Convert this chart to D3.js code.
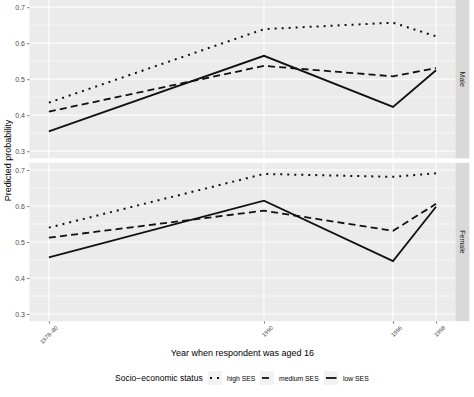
<!DOCTYPE html>
<html>
<head>
<meta charset="utf-8">
<script src="https://cdn.jsdelivr.net/npm/d3@7"></script>
<style>
  body { margin: 0; background: #fff; }
  svg { display: block; font-family: "Liberation Sans", Arial, sans-serif; }
</style>
</head>
<body>
<svg width="474" height="397"></svg>
<script>
// Years (1980 stands for the 1978-80 cohort)
var years = [1980, 1990, 1996, 1998];
var yearLabels = ["1978\u201380", "1990", "1996", "1998"];
var panels = ["Male", "Female"];
var groups = ["high SES", "medium SES", "low SES"];

// predicted probabilities
var maleHigh = [0.435, 0.639, 0.657, 0.619];
var maleMedium = [0.410, 0.537, 0.508, 0.531];
var maleLow = [0.355, 0.565, 0.423, 0.525];
var femaleHigh = [0.540, 0.689, 0.681, 0.691];
var femaleMedium = [0.512, 0.587, 0.531, 0.606];
var femaleLow = [0.457, 0.615, 0.447, 0.598];

var yTicks = [0.3, 0.4, 0.5, 0.6, 0.7];
var yMinor = [0.35, 0.45, 0.55, 0.65];

var series = {
  Male: [maleHigh, maleMedium, maleLow],
  Female: [femaleHigh, femaleMedium, femaleLow]
};

var dash = {
  "high SES": "2,5",
  "medium SES": "7,4.2",
  "low SES": null
};

var svg = d3.select("svg");
var left = 29.5, right = 455.4, stripW = 14;
var panelTop = [0, 162.8], panelH = 158.4;

var x = d3.scaleLinear().domain([1979.1, 1998.9]).range([left, right]);

panels.forEach(function(p, pi) {
  var top = panelTop[pi];
  var y = d3.scaleLinear().domain([0.28, 0.72]).range([top + panelH, top]);
  var g = svg.append("g");

  g.append("rect")
    .attr("x", left).attr("y", top)
    .attr("width", right - left).attr("height", panelH)
    .attr("fill", "#ebebeb");

  g.selectAll(".minor").data(yMinor).enter().append("line")
    .attr("x1", left).attr("x2", right)
    .attr("y1", function(d) { return y(d); })
    .attr("y2", function(d) { return y(d); })
    .attr("stroke", "#fff").attr("stroke-width", 0.5);

  g.selectAll(".major").data(yTicks).enter().append("line")
    .attr("x1", left).attr("x2", right)
    .attr("y1", function(d) { return y(d); })
    .attr("y2", function(d) { return y(d); })
    .attr("stroke", "#fff").attr("stroke-width", 1);

  g.selectAll(".vmajor").data(years).enter().append("line")
    .attr("x1", function(d) { return x(d); })
    .attr("x2", function(d) { return x(d); })
    .attr("y1", top).attr("y2", top + panelH)
    .attr("stroke", "#fff").attr("stroke-width", 1);

  // y axis
  var yAxis = d3.axisLeft(y).tickValues(yTicks).tickSize(2.5).tickPadding(2)
    .tickFormat(d3.format(".1f"));
  var ax = g.append("g").attr("transform", "translate(" + left + ",0)").call(yAxis);
  ax.select(".domain").remove();
  ax.selectAll(".tick line").attr("stroke", "#333").attr("stroke-width", 0.6);
  ax.selectAll("text").attr("fill", "#4d4d4d").style("font-size", "7px");

  // strip
  g.append("rect")
    .attr("x", right).attr("y", top)
    .attr("width", stripW).attr("height", panelH)
    .attr("fill", "#d9d9d9");
  g.append("text")
    .attr("transform", "translate(" + (right + stripW / 2 - 2.5) + "," + (top + panelH / 2) + ") rotate(90)")
    .attr("text-anchor", "middle")
    .attr("fill", "#1a1a1a")
    .style("font-size", "7px")
    .text(p);

  // lines
  var line = d3.line()
    .x(function(d, i) { return x(years[i]); })
    .y(function(d) { return y(d); });

  series[p].forEach(function(vals, si) {
    g.append("path")
      .datum(vals)
      .attr("d", line)
      .attr("fill", "none")
      .attr("stroke", "#111")
      .attr("stroke-width", si == 0 ? 2 : 1.8)
      .attr("stroke-dasharray", dash[groups[si]]);
  });
});

// x axis
var bottom = panelTop[1] + panelH;
var xAxis = d3.axisBottom(x).tickValues(years).tickSize(2.5).tickPadding(2)
  .tickFormat(function(d, i) { return yearLabels[i]; });
var xa = svg.append("g").attr("transform", "translate(0," + bottom + ")").call(xAxis);
xa.select(".domain").remove();
xa.selectAll(".tick line").attr("stroke", "#333").attr("stroke-width", 0.6);
xa.selectAll("text")
  .attr("fill", "#4d4d4d")
  .style("font-size", "5.8px")
  .attr("text-anchor", "end")
  .attr("dy", null)
  .attr("y", 0)
  .attr("transform", "translate(9,7) rotate(-45)");

// axis titles
svg.append("text")
  .attr("x", (left + right) / 2).attr("y", 356)
  .attr("text-anchor", "middle")
  .style("font-size", "9px")
  .attr("fill", "#000")
  .text("Year when respondent was aged 16");

svg.append("text")
  .attr("transform", "translate(11," + (bottom / 2) + ") rotate(-90)")
  .attr("text-anchor", "middle")
  .style("font-size", "9px")
  .attr("fill", "#000")
  .text("Predicted probability");

// legend
var legend = svg.append("g").attr("transform", "translate(0,378)");
legend.append("text")
  .attr("x", 115).attr("y", 3)
  .style("font-size", "8.5px")
  .attr("fill", "#000")
  .text("Socio\u2212economic status");

var keyX = [208, 260, 324];
var labX = [227, 279, 343];
groups.forEach(function(gr, i) {
  legend.append("rect")
    .attr("x", keyX[i]).attr("y", -7)
    .attr("width", 14).attr("height", 14)
    .attr("fill", "#f2f2f2");
  legend.append("line")
    .attr("x1", keyX[i] + 2).attr("x2", keyX[i] + 12.5)
    .attr("y1", 0).attr("y2", 0)
    .attr("stroke", "#111")
    .attr("stroke-width", i == 0 ? 2 : 1.8)
    .attr("stroke-dasharray", i == 0 ? "2,5" : i == 1 ? "7,4.2" : null);
  legend.append("text")
    .attr("x", labX[i]).attr("y", 2.5)
    .style("font-size", "6.8px")
    .attr("fill", "#000")
    .text(gr);
});
</script>
</body>
</html>
